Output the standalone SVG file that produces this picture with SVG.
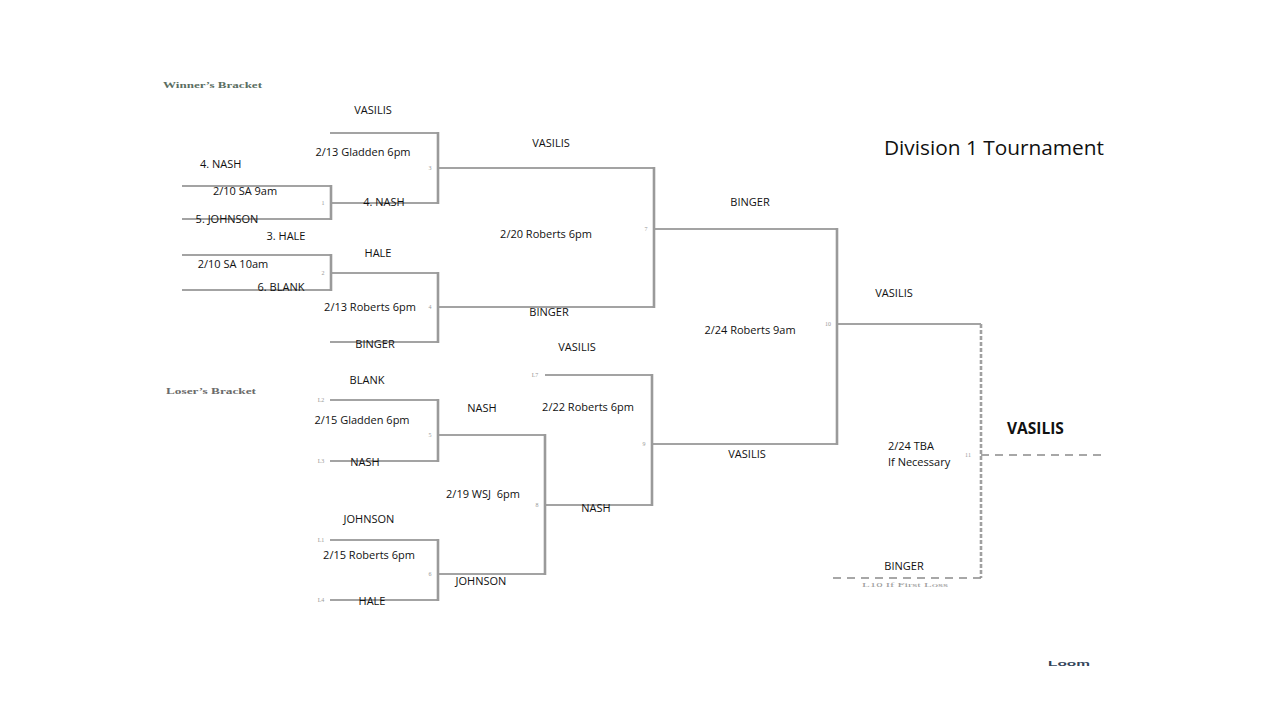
<svg xmlns="http://www.w3.org/2000/svg" width="1280" height="720" viewBox="0 0 1280 720">
<style>
.h{stroke:#858585;stroke-width:1.3;fill:none}
.v{stroke:#9a9a9a;stroke-width:2.6;fill:none}
.d{stroke:#8a8a8a;stroke-width:1.3;fill:none;stroke-dasharray:8 6}
.dv{stroke:#a0a0a0;stroke-width:2.6;fill:none;stroke-dasharray:4 2}
.t{font-family:"Open Sans","Liberation Sans",sans-serif;font-size:11px;fill:#111;text-anchor:middle}
.tl{font-family:"Open Sans","Liberation Sans",sans-serif;font-size:11px;fill:#111}
.n{font-family:"Liberation Serif",serif;font-size:6px;fill:#999;text-anchor:middle}
.s{font-family:"Liberation Serif",serif;font-size:8px;font-weight:bold;fill:#6b6b6b}
</style>
<rect width="1280" height="720" fill="#fff"/>
<g id="connectors">
<path class="h" d="M182 186H331M182 219H331M331 203H438M330 133H438M438 168H654"/>
<path class="h" d="M182 255H331M182 290H331M331 273H438M330 342H438M438 307H654"/>
<path class="h" d="M654 229H837M837 324H981"/>
<path class="h" d="M330 400H438M330 461H438M438 435H545M330 540H438M330 600H438M438 574H545M545 505H652M545 375H652M652 444H837"/>
<path class="v" d="M331 185V220M331 254V291M438 132V204M438 272V343M654 167V308M837 228V445M438 399V462M438 539V601M545 434V575M652 374V506"/>
<path class="dv" d="M981 324V578"/>
<path class="d" d="M833 578H981M981 455H1103"/>
</g>
<g id="titles">
<text x="884" y="155" font-family="'Open Sans','Liberation Sans',sans-serif" font-size="20" fill="#111" textLength="220" lengthAdjust="spacingAndGlyphs">Division 1 Tournament</text>
<text class="s" x="163" y="88" style="fill:#5a6e62" textLength="99" lengthAdjust="spacingAndGlyphs">Winner’s Bracket</text>
<text class="s" x="166" y="394" textLength="90" lengthAdjust="spacingAndGlyphs">Loser’s Bracket</text>
<text x="1048" y="666" font-family="'Liberation Sans',sans-serif" font-size="8" font-weight="bold" fill="#33445a" textLength="42" lengthAdjust="spacingAndGlyphs">Loom</text>
<text x="1007" y="434" font-family="'Open Sans','Liberation Sans',sans-serif" font-size="15.5" font-weight="bold" fill="#111">VASILIS</text>
</g>
<g id="numbers">
<text class="n" x="323" y="205">1</text>
<text class="n" x="323" y="275">2</text>
<text class="n" x="430" y="170">3</text>
<text class="n" x="430" y="309">4</text>
<text class="n" x="430" y="437">5</text>
<text class="n" x="430" y="576">6</text>
<text class="n" x="646" y="231">7</text>
<text class="n" x="537" y="507">8</text>
<text class="n" x="644" y="446">9</text>
<text class="n" x="828" y="326">10</text>
<text class="n" x="968" y="457">11</text>
<text class="n" x="321" y="402">L2</text>
<text class="n" x="321" y="463">L3</text>
<text class="n" x="321" y="542">L1</text>
<text class="n" x="321" y="602">L4</text>
<text class="n" x="535" y="377">L7</text>
<text class="n" x="862" y="587" style="text-anchor:start" textLength="86" lengthAdjust="spacingAndGlyphs">L10 If First Loss</text>
</g>
<g id="game1"><text class="tl" x="200" y="168">4. NASH</text><text class="t" x="245" y="195">2/10 SA 9am</text><text class="t" x="227" y="223">5. JOHNSON</text></g>
<g id="game2"><text class="t" x="286" y="240">3. HALE</text><text class="t" x="233" y="268">2/10 SA 10am</text><text class="t" x="281" y="291">6. BLANK</text></g>
<g id="game3"><text class="t" x="373" y="114">VASILIS</text><text class="t" x="363" y="156">2/13 Gladden 6pm</text><text class="t" x="384" y="206">4. NASH</text></g>
<g id="game4"><text class="t" x="378" y="257">HALE</text><text class="t" x="370" y="311">2/13 Roberts 6pm</text><text class="t" x="375" y="348">BINGER</text></g>
<g id="game7"><text class="t" x="551" y="147">VASILIS</text><text class="t" x="546" y="238">2/20 Roberts 6pm</text><text class="t" x="549" y="316">BINGER</text></g>
<g id="game10"><text class="t" x="750" y="206">BINGER</text><text class="t" x="750" y="334">2/24 Roberts 9am</text><text class="t" x="747" y="458">VASILIS</text></g>
<g id="game11"><text class="t" x="894" y="297">VASILIS</text><text class="tl" x="888" y="450">2/24 TBA</text><text class="tl" x="888" y="466">If Necessary</text><text class="t" x="904" y="570">BINGER</text></g>
<g id="game5"><text class="t" x="367" y="384">BLANK</text><text class="t" x="362" y="424">2/15 Gladden 6pm</text><text class="t" x="365" y="466">NASH</text></g>
<g id="game6"><text class="t" x="369" y="523">JOHNSON</text><text class="t" x="369" y="559">2/15 Roberts 6pm</text><text class="t" x="372" y="605">HALE</text></g>
<g id="game8"><text class="t" x="482" y="412">NASH</text><text class="t" x="483" y="498" style="white-space:pre">2/19 WSJ  6pm</text><text class="t" x="481" y="585">JOHNSON</text></g>
<g id="game9"><text class="t" x="577" y="351">VASILIS</text><text class="t" x="588" y="411">2/22 Roberts 6pm</text><text class="t" x="596" y="512">NASH</text></g>
</svg>
